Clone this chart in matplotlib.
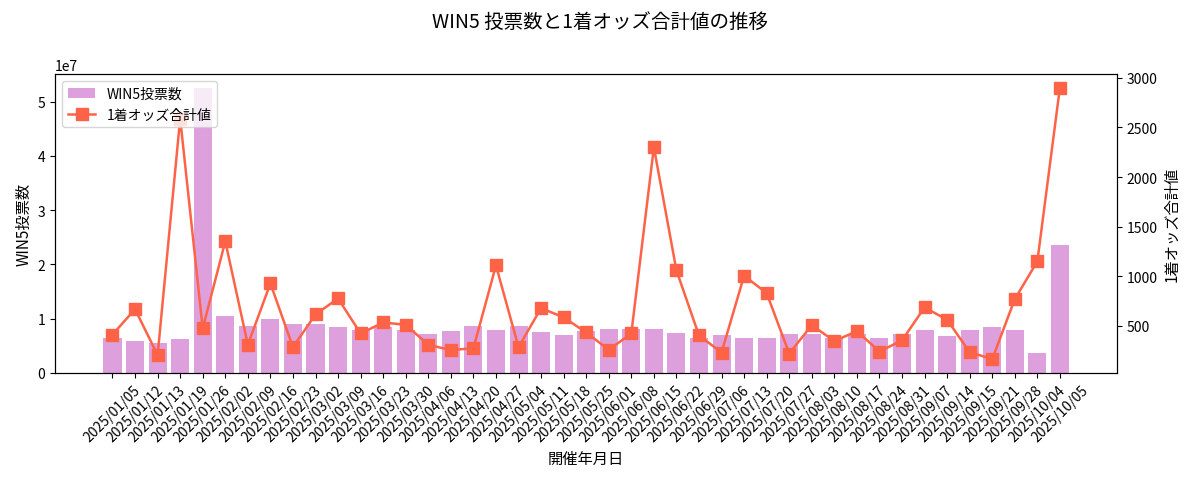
import matplotlib
matplotlib.use("Agg")
import matplotlib.pyplot as plt

plt.rcParams['font.family'] = ['Noto Sans CJK JP', 'DejaVu Sans']

# 開催日
dates = [
    "2025/01/05", "2025/01/12", "2025/01/13", "2025/01/19", "2025/01/26",
    "2025/02/02", "2025/02/09", "2025/02/16", "2025/02/23", "2025/03/02",
    "2025/03/09", "2025/03/16", "2025/03/23", "2025/03/30", "2025/04/06",
    "2025/04/13", "2025/04/20", "2025/04/27", "2025/05/04", "2025/05/11",
    "2025/05/18", "2025/05/25", "2025/06/01", "2025/06/08", "2025/06/15",
    "2025/06/22", "2025/06/29", "2025/07/06", "2025/07/13", "2025/07/20",
    "2025/07/27", "2025/08/03", "2025/08/10", "2025/08/17", "2025/08/24",
    "2025/08/31", "2025/09/07", "2025/09/14", "2025/09/15", "2025/09/21",
    "2025/09/28", "2025/10/04", "2025/10/05",
]

# WIN5投票数
votes = [
    6.4e6, 5.8e6, 5.5e6, 6.3e6, 5.25e7,
    1.05e7, 8.6e6, 9.9e6, 9.0e6, 9.0e6,
    8.4e6, 7.8e6, 8.4e6, 7.9e6, 7.1e6,
    7.7e6, 8.6e6, 7.8e6, 8.6e6, 7.5e6,
    6.9e6, 7.7e6, 8.1e6, 8.0e6, 8.1e6,
    7.4e6, 6.4e6, 6.9e6, 6.4e6, 6.5e6,
    7.2e6, 7.2e6, 6.4e6, 7.1e6, 6.4e6,
    7.2e6, 7.9e6, 6.8e6, 7.8e6, 8.4e6,
    7.9e6, 3.6e6, 2.35e7,
]

# 1着オッズ合計値
odds_sum = [
    412, 668, 204, 2590, 474,
    1352, 309, 928, 285, 615,
    776, 423, 534, 510, 309,
    255, 275, 1109, 285, 679,
    585, 433, 258, 423, 2300,
    1059, 403, 231, 1005, 830,
    221, 507, 346, 447, 241,
    353, 686, 561, 235, 164,
    769, 1150, 2902,
]

fig, ax1 = plt.subplots(figsize=(12, 4.81), dpi=100)
x = range(len(dates))

bars = ax1.bar(x, votes, color='plum', label='WIN5投票数')
ax1.set_xlabel('開催年月日', fontsize=11)
ax1.set_ylabel('WIN5投票数', fontsize=11)
ax1.set_xticks(list(x))
ax1.set_xticklabels(dates, rotation=45)

ax2 = ax1.twinx()
line, = ax2.plot(x, odds_sum, color='tomato', marker='s', markersize=8.5,
                 linewidth=1.8, label='1着オッズ合計値')
ax2.set_ylabel('1着オッズ合計値', fontsize=11)

ax2.legend([bars, line], ['WIN5投票数', '1着オッズ合計値'], loc='upper left')
fig.suptitle('WIN5 投票数と1着オッズ合計値の推移', fontsize=14, y=0.975)
fig.subplots_adjust(left=0.046, right=0.931, top=0.844, bottom=0.223)
fig.savefig('out.png')
